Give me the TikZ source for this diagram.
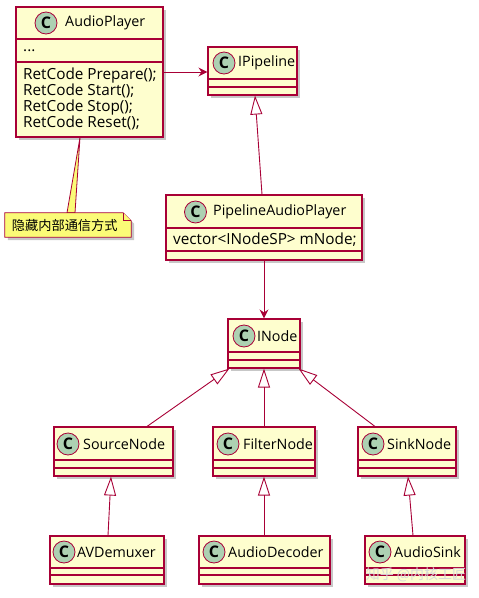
\documentclass[tikz,border=0pt]{standalone}
\usepackage{fontspec}
\setmainfont{Open Sans}
\newfontfamily\cjk{Noto Sans CJK SC}
\usetikzlibrary{positioning, arrows.meta, shadows, backgrounds}

\definecolor{umlred}{HTML}{A80036}
\definecolor{umlfill}{HTML}{FEFECE}
\definecolor{umlgreen}{HTML}{ADD1B2}
\definecolor{notefill}{HTML}{FBFB77}

\tikzset{
  box/.style={draw=umlred, fill=umlfill, line width=1.1pt, inner sep=0pt,
              drop shadow={shadow xshift=3pt, shadow yshift=-3pt, fill=black, opacity=0.22}},
  sep/.style={draw=umlred, line width=1.1pt},
  badge/.style={circle, draw=umlred, fill=umlgreen, line width=0.8pt, minimum size=22pt,
                inner sep=0pt, font=\bfseries\fontsize{16}{16}\selectfont},
  cname/.style={anchor=west, inner sep=0pt, font=\fontsize{14.3}{14}\selectfont},
  member/.style={anchor=west, inner sep=0pt, align=left, font=\fontsize{15.3}{16}\selectfont},
  assoc/.style={draw=umlred, line width=0.9pt, -{Stealth[length=9pt, width=9pt, inset=3pt]}},
  extends/.style={draw=umlred, line width=0.9pt, -{Triangle[open, length=19pt, width=12pt]}},
  notebox/.style={draw=umlred, fill=notefill, line width=0.8pt},
}

% class box: name, left, top, right, bottom, separator 1, separator 2
\newcommand{\umlclass}[7]{%
  \node[box, minimum width={#4-#2}, minimum height={#5-#3}] (#1) at ({(#2+#4)/2},{(#3+#5)/2}) {};
  \draw[sep] (#2,#6) -- (#4,#6);
  \draw[sep] (#2,#7) -- (#4,#7);
}
% class title: name, circle x, text x, y, text
\newcommand{\umltitle}[5]{%
  \node[badge] (#1-c) at (#2,#4) {C};
  \node[cname] (#1-t) at (#3,#4) {#5};
}

\begin{document}
\begin{tikzpicture}[x=1pt, y=-1pt]
\useasboundingbox (0,0) rectangle (479,598);

% classes
\umlclass{player}{16}{7}{163}{137}{39}{62}
\umltitle{player}{46}{65}{23}{AudioPlayer}
\node[member] (player-f) at (23,51) {...};
\node[member] (player-m) at (23,99) {RetCode Prepare();\\RetCode Start();\\RetCode Stop();\\RetCode Reset();};

\umlclass{ipipe}{208}{47}{297}{95}{79}{87}
\umltitle{ipipe}{224}{238}{63}{IPipeline}

\umlclass{pap}{166}{195}{362}{260}{228}{251}
\umltitle{pap}{195.5}{213}{212}{PipelineAudioPlayer}
\node[member] (pap-f) at (173,240) {vector<INodeSP> mNode;};

\umlclass{inode}{228}{319}{300}{368}{352}{360}
\umltitle{inode}{244}{257}{336}{INode}

\umlclass{source}{54}{427}{173}{476}{460}{468}
\umltitle{source}{68}{83}{444}{SourceNode}
\umlclass{filter}{213}{427}{315}{476}{460}{468}
\umltitle{filter}{228}{243}{444}{FilterNode}
\umlclass{sink}{358}{427}{456}{476}{460}{468}
\umltitle{sink}{373}{387}{444}{SinkNode}

\umlclass{demux}{50}{536}{164}{584}{568}{575}
\umltitle{demux}{64}{77}{552}{AVDemuxer}
\umlclass{decoder}{199}{536}{330}{584}{568}{575}
\umltitle{decoder}{214}{228}{552}{AudioDecoder}
\umlclass{asink}{365}{536}{465}{584}{568}{575}
\umltitle{asink}{380}{394}{552}{AudioSink}

% note
\node[minimum width=126pt, minimum height=24pt, inner sep=0pt, text width=112pt, align=left,
      font=\cjk\fontsize{13.2}{13}\selectfont] (note) at (68,225) {隐藏内部通信方式};
\begin{scope}[on background layer]
  \filldraw[notebox] ([xshift=-9.5pt]player.south) -- ([xshift=-1pt]note.north) -- ([xshift=7pt]note.north) -- cycle;
  \filldraw[notebox, drop shadow={shadow xshift=3pt, shadow yshift=-3pt, fill=black, opacity=0.22}]
    (note.north west) -- ([xshift=-8pt]note.north east) -- ([yshift=-8pt]note.north east)
    -- (note.south east) -- (note.south west) -- cycle;
  \draw[notebox] ([xshift=-8pt]note.north east) |- ([yshift=-8pt]note.north east);
\end{scope}

% links
\draw[assoc] (player.east) -- (player.east -| ipipe.west);
\draw[extends] ([xshift=-2pt]pap.north) -- ([xshift=2.5pt]ipipe.south);
\draw[assoc] (pap.south) -- (inode.north);
\draw[extends] ([xshift=33.5pt]source.north) -- ([xshift=2pt]inode.south west);
\draw[extends] (filter.north) -- (inode.south);
\draw[extends] ([xshift=-32pt]sink.north) -- ([xshift=-2pt]inode.south east);
\draw[extends] ([xshift=1pt]demux.north) -- ([xshift=-2.5pt]source.south);
\draw[extends] ([xshift=-0.5pt]decoder.north) -- (filter.south);
\draw[extends] ([xshift=-2pt]asink.north) -- ([xshift=1pt]sink.south);

% watermark
\node[font=\cjk\fontsize{14}{14}\selectfont, text=gray!30] (mark) at (416,575) {知乎 @内核工匠};
\end{tikzpicture}
\end{document}
